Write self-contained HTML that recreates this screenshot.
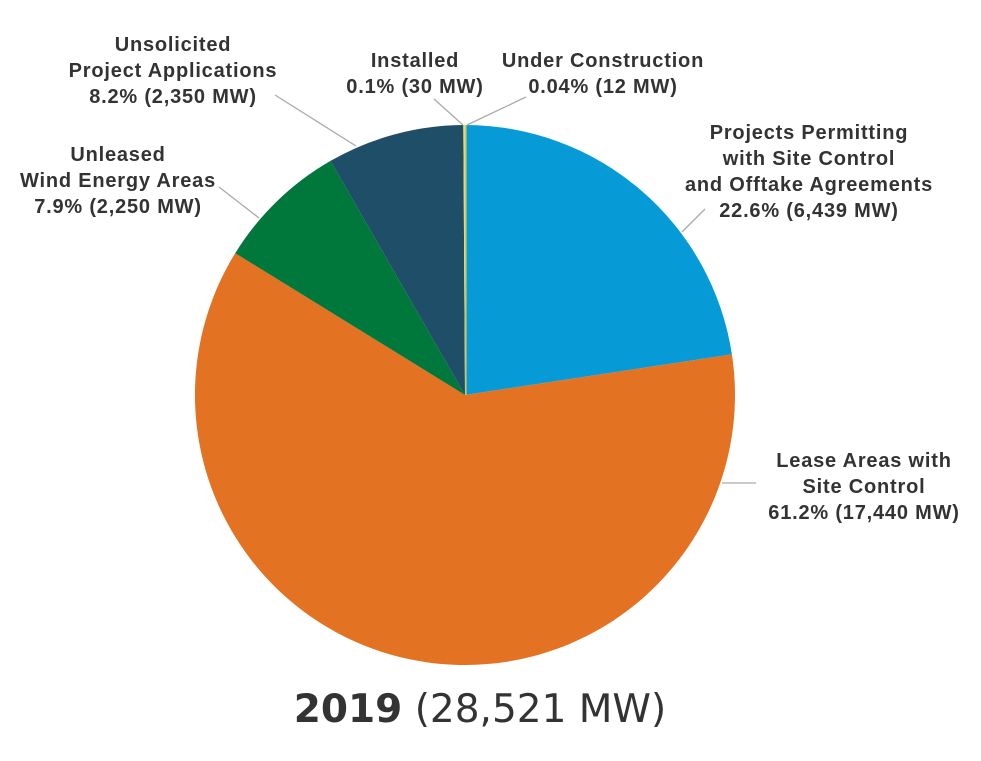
<!DOCTYPE html>
<html><head><meta charset="utf-8"><style>
body{margin:0;background:#fff;}
svg{display:block;}
.l{font-family:"Liberation Sans",Arial,sans-serif;font-weight:bold;font-size:20px;letter-spacing:0.8px;fill:#333;text-anchor:middle;}
</style></head><body>
<svg width="981" height="761" viewBox="0 0 981 761">
<path d="M465,395 L465,125 A270,270 0 0 1 731.9,354.4 Z" fill="#069bd6"/>
<path d="M465,395 L731.9,354.4 A270,270 0 1 1 235.2,253.2 Z" fill="#e37222"/>
<path d="M465,395 L235.2,253.2 A270,270 0 0 1 330.5,160.9 Z" fill="#00783b"/>
<path d="M465,395 L330.5,160.9 A270,270 0 0 1 463.3,125 Z" fill="#1f4e69"/>
<path d="M465,395 L463.3,125 A270,270 0 0 1 465.5,125 Z" fill="#e8d870"/>
<line x1="465.8" y1="125" x2="465.8" y2="395" stroke="#d8c860" stroke-width="1.5"/>
<g stroke="#aaa" stroke-width="1.3">
<line x1="275" y1="95" x2="356" y2="146"/>
<line x1="434" y1="99" x2="463" y2="125"/>
<line x1="526" y1="97" x2="467" y2="125"/>
<line x1="219" y1="187" x2="259" y2="218"/>
<line x1="682" y1="232" x2="705" y2="209"/>
<line x1="722" y1="483" x2="756" y2="483"/>
</g>
<text class="l"><tspan x="173" y="51">Unsolicited</tspan><tspan x="173" y="77">Project Applications</tspan><tspan x="173" y="103">8.2% (2,350 MW)</tspan></text>
<text class="l"><tspan x="415" y="67">Installed</tspan><tspan x="415" y="93">0.1% (30 MW)</tspan></text>
<text class="l"><tspan x="603" y="67">Under Construction</tspan><tspan x="603" y="93">0.04% (12 MW)</tspan></text>
<text class="l"><tspan x="118" y="161">Unleased</tspan><tspan x="118" y="187">Wind Energy Areas</tspan><tspan x="118" y="213">7.9% (2,250 MW)</tspan></text>
<text class="l"><tspan x="809" y="139">Projects Permitting</tspan><tspan x="809" y="165">with Site Control</tspan><tspan x="809" y="191">and Offtake Agreements</tspan><tspan x="809" y="217">22.6% (6,439 MW)</tspan></text>
<text class="l"><tspan x="864" y="467">Lease Areas with</tspan><tspan x="864" y="493">Site Control</tspan><tspan x="864" y="519">61.2% (17,440 MW)</tspan></text>
<text x="480" y="722" text-anchor="middle" font-family="'DejaVu Sans','Liberation Sans',sans-serif" font-size="39" fill="#333"><tspan font-weight="bold">2019</tspan> (28,521 MW)</text>
</svg>
</body></html>
